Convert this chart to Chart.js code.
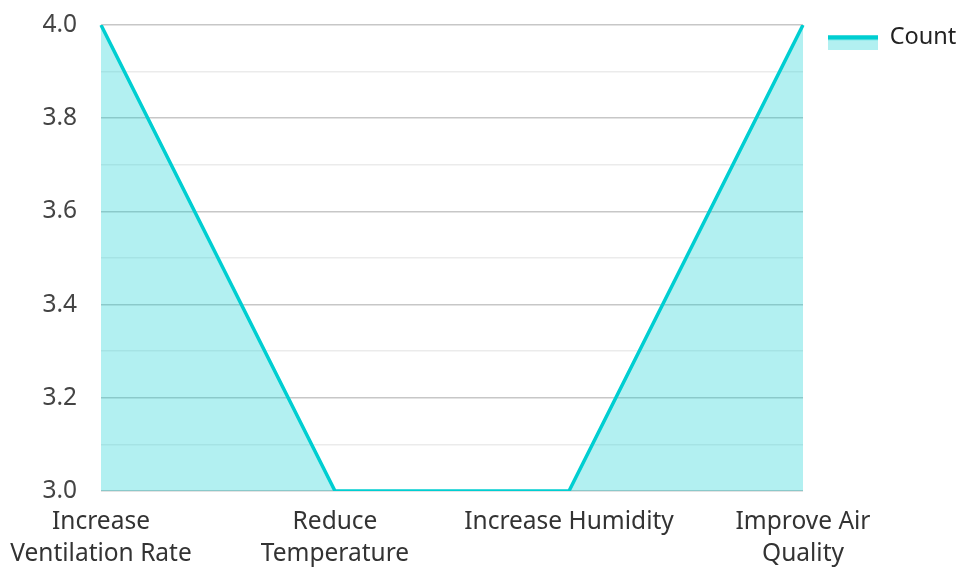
<!DOCTYPE html>
<html>
<head>
<meta charset="utf-8">
<script src="https://cdn.jsdelivr.net/npm/chart.js@4"></script>
<style>
    html, body { margin: 0; padding: 0; background: #fff; }
    #wrap { width: 961px; height: 567px; }
</style>
</head>
<body>
<div id="wrap"><canvas id="chart"></canvas></div>
<script>
// data
var categories = [
    ["Increase", "Ventilation Rate"],
    ["Reduce", "Temperature"],
    "Increase Humidity",
    ["Improve Air", "Quality"]
];
var counts = [4, 3, 3, 4];
var yMin = 3.0;
var yMax = 4.0;

var lineColor = "#00CED1";
var fillColor = "rgba(0, 206, 209, 0.3)";

// legend marker: line on top, fill below (left gap keeps it off the plot)
function legendMarker() {
    var c = document.createElement("canvas");
    c.width = 73;
    c.height = 25;
    var g = c.getContext("2d");
    g.fillStyle = fillColor;
    g.fillRect(23, 10, 50, 15);
    g.fillStyle = lineColor;
    g.fillRect(23, 10, 50, 4.5);
    return c;
}

Chart.defaults.font.family = "'Noto Sans', 'Open Sans', sans-serif";
Chart.defaults.font.size = 24.5;

var ctx = document.getElementById("chart");

var myChart = new Chart(ctx, {
    type: 'line',
    data: {
        labels: categories,
        datasets: [
            {
                label: "Count",
                data: counts,
                borderColor: lineColor,
                backgroundColor: fillColor,
                borderWidth: 3.5,
                fill: 'origin',
                pointRadius: 0,
                pointHoverRadius: 0,
                tension: 0,
                pointStyle: legendMarker()
            }]
    },
    options: {
        responsive: true,
        maintainAspectRatio: false,
        animation: { duration: 0 },
        layout: { padding: { top: 24, right: -9, left: 0, bottom: 0 } },
        plugins: {
            legend: {
                display: true,
                position: 'right',
                align: 'start',
                labels: {
                    usePointStyle: true,
                    pointStyleWidth: 73,
                    boxHeight: 14,
                    padding: 2,
                    color: "#222",
                    font: { size: 23.5 }
                }
            },
            tooltip: { enabled: false }
        },
        scales: {
            x: {
                offset: false,
                border: { display: false },
                grid: { display: false, drawTicks: false },
                ticks: {
                    color: "#333",
                    maxRotation: 0,
                    autoSkip: false,
                    padding: 15,
                    font: { lineHeight: 1.31 }
                },
                afterFit: function (s) {
                    s.height = 76;
                    s.paddingLeft = 101;
                    s.paddingRight = 158;
                }
            },
            y: {
                min: yMin,
                max: yMax,
                border: { display: false },
                grid: {
                    drawTicks: false,
                    lineWidth: 1.5,
                    color: function (c) {
                        return c.index % 2 === 0 ? "rgba(0,0,0,0.22)" : "rgba(0,0,0,0.08)";
                    }
                },
                ticks: {
                    stepSize: 0.1,
                    autoSkip: false,
                    color: "#444",
                    padding: 24,
                    callback: function (value, index) {
                        return index % 2 === 0 ? value.toFixed(1) : "";
                    }
                },
                afterFit: function (s) {
                    s.paddingTop = 25;
                }
            }
        }
    }
});
</script>
</body>
</html>
